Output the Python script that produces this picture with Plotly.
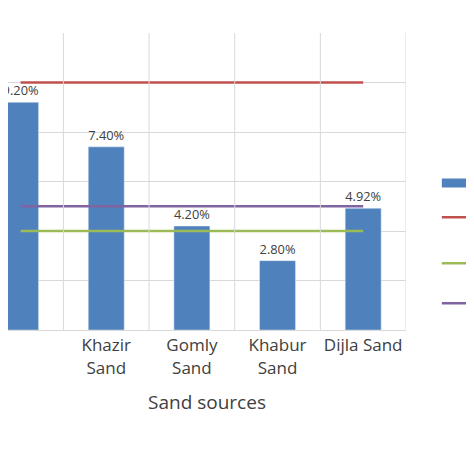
import plotly.graph_objects as go

categories = ["Malaka<br>Deen Axa<br>Sand", "Khazir<br>Sand", "Gomly<br>Sand", "Khabur<br>Sand", "Dijla Sand"]
values = [9.20, 7.40, 4.20, 2.80, 4.92]
labels = ["9.20%", "7.40%", "4.20%", "2.80%", "4.92%"]
limit_red = [10, 10, 10, 10, 10]
limit_green = [4, 4, 4, 4, 4]
limit_purple = [5, 5, 5, 5, 5]

pos = list(range(len(categories)))
FONT = dict(family="Open Sans", size=16, color="#404040")
fig = go.Figure()
fig.add_trace(go.Bar(
    x=pos, y=values, text=labels, textposition="outside",
    marker_color="#4F81BD", width=0.42, cliponaxis=False,
    textfont=FONT, name="Value",
))
for ys, color in [(limit_red, "#C0504D"), (limit_green, "#9BBB59"), (limit_purple, "#8064A2")]:
    fig.add_trace(go.Scatter(x=pos, y=ys, mode="lines",
                             line=dict(color=color, width=2.5)))

# legend keys (cropped in reference)
shapes = [dict(type="rect", xref="paper", yref="paper", x0=1.09, x1=1.2,
               y0=0.48, y1=0.51, fillcolor="#4F81BD", line_width=0)]
for yv, c in [(0.38, "#C0504D"), (0.225, "#9BBB59"), (0.09, "#8064A2")]:
    shapes.append(dict(type="line", xref="paper", yref="paper", x0=1.09, x1=1.2,
                       y0=yv, y1=yv, line=dict(color=c, width=2.5)))
for i in range(5):
    shapes.append(dict(type="line", xref="x", yref="paper", x0=i + 0.5, x1=i + 0.5,
                       y0=0, y1=1, line=dict(color="#D9D9D9", width=1)))

fig.update_layout(
    width=474, height=474, showlegend=False,
    paper_bgcolor="white", plot_bgcolor="white",
    margin=dict(l=0, r=76, t=25, b=152),
    font=FONT, shapes=shapes,
    xaxis=dict(range=[-0.147, 4.5], tickvals=pos, ticktext=categories,
               showgrid=False, linecolor="#D9D9D9", zeroline=False,
               ticks="", tickfont=dict(family="Open Sans", size=17, color="#404040"),
               title=dict(text="Sand sources", font=dict(family="Open Sans", size=19, color="#404040"), standoff=18)),
    yaxis=dict(range=[0, 12], dtick=2, gridcolor="#D9D9D9", showticklabels=False,
               zeroline=False),
)
fig.write_html("out.html")
